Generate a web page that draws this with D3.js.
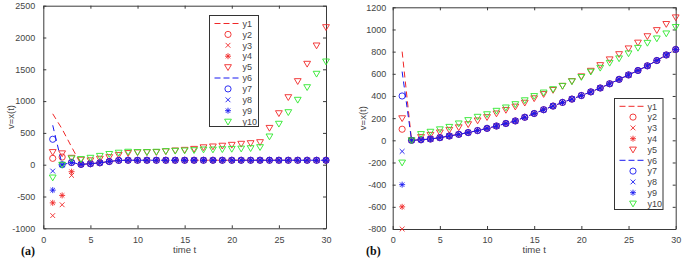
<!DOCTYPE html>
<html>
<head>
<meta charset="utf-8">
<script src="https://cdn.jsdelivr.net/npm/d3@7"></script>
<style>
    body { margin: 0; background: #fff; }
    svg text { font-family: "Liberation Sans", Arial, sans-serif; }
    svg text.tag { font-family: "Liberation Serif", "Times New Roman", serif; font-weight: bold; }
</style>
</head>
<body>
<svg id="chart" width="685" height="258"></svg>
<script>
(function () {
    // time axis
    const T = [1, 2, 3, 4, 5, 6, 7, 8, 9, 10, 11, 12, 13, 14, 15,
               16, 17, 18, 19, 20, 21, 22, 23, 24, 25, 26, 27, 28, 29, 30];

    const NAMES = ['y1', 'y2', 'y3', 'y4', 'y5', 'y6', 'y7', 'y8', 'y9', 'y10'];
    const X_TICKS = [0, 5, 10, 15, 20, 25, 30];
    const A_Y_TICKS = [-1000, -500, 0, 500, 1000, 1500, 2000, 2500];
    const B_Y_TICKS = [-800, -600, -400, -200, 0, 200, 400, 600, 800, 1000, 1200];

    // panel (a): the blue states settle together from t=4 on
    const aTail = [5, 15, 30, 50, 68, 70, 70, 70, 70, 70, 70, 70, 70, 70, 70,
                   70, 70, 70, 70, 70, 70, 70, 70, 70, 70, 70, 70];
    const aY1 = [800, 560, 280, ...aTail];
    const aY2 = [100, 120, 35, ...aTail];
    const aY3 = [-800, -630, -168, ...aTail];
    const aY4 = [-600, -483, -110, ...aTail];
    const aY5 = [200, 180, 110, 80, 70, 95, 120, 155, 185, 195, 198, 200, 212, 225, 235,
                 250, 275, 288, 300, 314, 330, 340, 356, 580, 811, 1063, 1315, 1588, 1876, 2164];
    const aY6 = [620, 0, 35, ...aTail];
    const aY7 = [400, 0, 35, ...aTail];
    const aY8 = [-100, 0, 35, ...aTail];
    const aY9 = [-400, 0, 35, ...aTail];
    const aY10 = [-200, 0, 100, 90, 110, 140, 170, 190, 205, 200, 200, 205, 215, 220, 225,
                  230, 240, 240, 245, 250, 255, 261, 277, 445, 645, 827, 1022, 1220, 1431, 1624];

    // panel (b): from t=2 the blue states coincide
    const bTail = [0, 5, 12, 24, 39, 54, 70, 88, 108, 129, 152, 175, 208, 242, 276,
                   309, 342, 372, 404, 437, 472, 510, 550, 590, 630, 672, 720, 770, 820];
    const bY1 = [800, ...bTail];
    const bY2 = [100, ...bTail];
    const bY3 = [-800, ...bTail];
    const bY4 = [-600, ...bTail];
    const bY5 = [200, 0, 30, 50, 72, 95, 118, 146, 180, 210, 243, 275, 305, 340, 380,
                 418, 455, 492, 535, 578, 628, 679, 731, 778, 830, 882, 940, 995, 1050, 1110];
    const bY6 = [620, ...bTail];
    const bY7 = [400, ...bTail];
    const bY8 = [-100, ...bTail];
    const bY9 = [-400, ...bTail];
    const bY10 = [-200, 0, 57, 78, 100, 122, 153, 183, 213, 236, 267, 297, 327, 362, 400,
                  432, 462, 492, 533, 572, 620, 655, 700, 740, 785, 835, 880, 920, 965, 1023];

    const RED = '#f02828';
    const BLUE = '#1818f0';
    const GREEN = '#2ee82e';
    const AXIS = '#3a3a3a';
    const TEXT = '#444';

    const STYLES = [
        { type: 'line', color: RED }, { type: 'o', color: RED }, { type: 'x', color: RED },
        { type: '*', color: RED }, { type: 'v', color: RED },
        { type: 'line', color: BLUE }, { type: 'o', color: BLUE }, { type: 'x', color: BLUE },
        { type: '*', color: BLUE }, { type: 'v', color: GREEN }
    ];

    const panels = [
        {
            series: [aY1, aY2, aY3, aY4, aY5, aY6, aY7, aY8, aY9, aY10],
            yDomain: [-1000, 2500], yTicks: A_Y_TICKS,
            x0: 43.3, x1: 326, y0: 5.7, y1: 228.3, labGap: 5,
            legend: { x: 209.5, y: 15.5, w: 49, h: 111, row0: 23.5, dy: 10.9 },
            tag: '(a)', tagX: 21, ylabX: 11
        },
        {
            series: [bY1, bY2, bY3, bY4, bY5, bY6, bY7, bY8, bY9, bY10],
            yDomain: [-800, 1200], yTicks: B_Y_TICKS,
            x0: 392.7, x1: 675.7, y0: 7.3, y1: 229, labGap: 3.5,
            legend: { x: 614.5, y: 98.5, w: 48.5, h: 111, row0: 106.3, dy: 10.8 },
            tag: '(b)', tagX: 366, ylabX: 363
        }
    ];

    const svg = d3.select('#chart');
    const plain = d => String(d).replace('\u2212', '-');

    function drawMarker(g, type, color) {
        if (type === 'o') {
            g.append('circle').attr('r', 3.1)
                .attr('fill', 'none').attr('stroke', color).attr('stroke-width', 0.9);
            return;
        }
        let d;
        if (type === 'x') d = 'M-2.4,-2.4L2.4,2.4M-2.4,2.4L2.4,-2.4';
        if (type === '*') d = 'M-3,0L3,0M0,-3L0,3M-2.2,-2.2L2.2,2.2M-2.2,2.2L2.2,-2.2';
        if (type === 'v') d = 'M-3.4,-2.4L3.4,-2.4L0,3.4Z';
        g.append('path').attr('d', d)
            .attr('fill', 'none').attr('stroke', color).attr('stroke-width', 0.9);
    }

    panels.forEach(p => {
        const x = d3.scaleLinear().domain([0, 30]).range([p.x0, p.x1]);
        const y = d3.scaleLinear().domain(p.yDomain).range([p.y1, p.y0]);
        const g = svg.append('g');

        g.append('rect')
            .attr('x', p.x0).attr('y', p.y0)
            .attr('width', p.x1 - p.x0).attr('height', p.y1 - p.y0)
            .attr('fill', '#fff');

        // axes with inward ticks on all four sides
        const styleAxis = sel => {
            sel.select('.domain').attr('stroke', AXIS);
            sel.selectAll('.tick line').attr('stroke', AXIS);
            sel.selectAll('.tick text').attr('fill', TEXT).attr('font-size', 9)
                .attr('font-family', '"Liberation Sans", Arial, sans-serif');
        };
        g.append('g').attr('transform', `translate(0,${p.y1})`)
            .call(d3.axisBottom(x).tickValues(X_TICKS).tickFormat(plain)
                .tickSizeInner(-3).tickSizeOuter(0).tickPadding(8))
            .call(styleAxis);
        g.append('g').attr('transform', `translate(0,${p.y0})`)
            .call(d3.axisTop(x).tickValues(X_TICKS).tickSizeInner(-3).tickSizeOuter(0).tickFormat(''))
            .call(styleAxis);
        g.append('g').attr('transform', `translate(${p.x0},0)`)
            .call(d3.axisLeft(y).tickValues(p.yTicks).tickFormat(plain)
                .tickSizeInner(-3).tickSizeOuter(0).tickPadding(p.labGap + 3))
            .call(styleAxis);
        g.append('g').attr('transform', `translate(${p.x1},0)`)
            .call(d3.axisRight(y).tickValues(p.yTicks).tickSizeInner(-3).tickSizeOuter(0).tickFormat(''))
            .call(styleAxis);

        // series, drawn in order y1..y10 like the original plot
        const line = d3.line().x((d, i) => x(T[i])).y(d => y(d));
        p.series.forEach((vals, k) => {
            const st = STYLES[k];
            if (st.type === 'line') {
                g.append('path')
                    .attr('d', line(vals))
                    .attr('fill', 'none')
                    .attr('stroke', st.color)
                    .attr('stroke-width', 1)
                    .attr('stroke-dasharray', '6,4');
            } else {
                vals.forEach((v, i) => {
                    const m = g.append('g').attr('transform', `translate(${x(T[i])},${y(v)})`);
                    drawMarker(m, st.type, st.color);
                });
            }
        });

        // legend
        const L = p.legend;
        const lg = g.append('g');
        lg.append('rect')
            .attr('x', L.x).attr('y', L.y).attr('width', L.w).attr('height', L.h)
            .attr('fill', '#fff').attr('stroke', '#333').attr('stroke-width', 1);
        NAMES.forEach((name, k) => {
            const st = STYLES[k];
            const cy = L.row0 + k * L.dy;
            if (st.type === 'line') {
                lg.append('line')
                    .attr('x1', L.x + 5).attr('x2', L.x + 32)
                    .attr('y1', cy).attr('y2', cy)
                    .attr('stroke', st.color).attr('stroke-width', 1)
                    .attr('stroke-dasharray', '6,3');
            } else {
                drawMarker(lg.append('g').attr('transform', `translate(${L.x + 18.5},${cy})`), st.type, st.color);
            }
            lg.append('text')
                .attr('x', L.x + 33).attr('y', cy + 3.2)
                .attr('font-size', 9).attr('fill', TEXT)
                .text(name);
        });

        // axis labels
        g.append('text')
            .attr('x', (p.x0 + p.x1) / 2).attr('y', 253)
            .attr('text-anchor', 'middle').attr('font-size', 9.5).attr('fill', TEXT)
            .text('time t');
        g.append('text')
            .attr('transform', `translate(${p.ylabX + 3},${(p.y0 + p.y1) / 2}) rotate(-90)`)
            .attr('text-anchor', 'middle').attr('font-size', 9.5).attr('fill', TEXT)
            .text('v=x(t)');
        g.append('text')
            .attr('class', 'tag')
            .attr('x', p.tagX).attr('y', 255)
            .attr('font-size', 12).attr('fill', '#111')
            .text(p.tag);
    });
})();
</script>
</body>
</html>
